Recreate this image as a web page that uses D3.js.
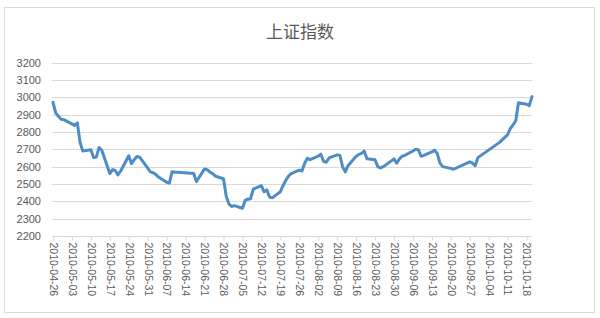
<!DOCTYPE html>
<html>
<head>
<meta charset="utf-8">
<script src="https://cdn.jsdelivr.net/npm/d3@7"></script>
<style>
  html, body { margin: 0; padding: 0; background: #fff; }
  svg { display: block; }
  .axis text { font-family: "Liberation Sans", Arial, sans-serif; fill: #595959; }
</style>
</head>
<body>
<svg id="chart"></svg>
<script>
// trading days and closing values of the index
const dates = [
  "2010-04-26","2010-04-27","2010-04-28","2010-04-29","2010-04-30",
  "2010-05-04","2010-05-05","2010-05-06","2010-05-07",
  "2010-05-10","2010-05-11","2010-05-12","2010-05-13","2010-05-14",
  "2010-05-17","2010-05-18","2010-05-19","2010-05-20","2010-05-21",
  "2010-05-24","2010-05-25","2010-05-26","2010-05-27","2010-05-28",
  "2010-05-31","2010-06-01","2010-06-02","2010-06-03","2010-06-04",
  "2010-06-07","2010-06-08","2010-06-09","2010-06-10","2010-06-11",
  "2010-06-17","2010-06-18",
  "2010-06-21","2010-06-22","2010-06-23","2010-06-24","2010-06-25",
  "2010-06-28","2010-06-29","2010-06-30","2010-07-01","2010-07-02",
  "2010-07-05","2010-07-06","2010-07-07","2010-07-08","2010-07-09",
  "2010-07-12","2010-07-13","2010-07-14","2010-07-15","2010-07-16",
  "2010-07-19","2010-07-20","2010-07-21","2010-07-22","2010-07-23",
  "2010-07-26","2010-07-27","2010-07-28","2010-07-29","2010-07-30",
  "2010-08-02","2010-08-03","2010-08-04","2010-08-05","2010-08-06",
  "2010-08-09","2010-08-10","2010-08-11","2010-08-12","2010-08-13",
  "2010-08-16","2010-08-17","2010-08-18","2010-08-19","2010-08-20",
  "2010-08-23","2010-08-24","2010-08-25","2010-08-26","2010-08-27",
  "2010-08-30","2010-08-31","2010-09-01","2010-09-02","2010-09-03",
  "2010-09-06","2010-09-07","2010-09-08","2010-09-09","2010-09-10",
  "2010-09-13","2010-09-14","2010-09-15","2010-09-16","2010-09-17",
  "2010-09-20","2010-09-21",
  "2010-09-27","2010-09-28","2010-09-29","2010-09-30",
  "2010-10-08",
  "2010-10-11","2010-10-12","2010-10-13","2010-10-14","2010-10-15",
  "2010-10-18","2010-10-19","2010-10-20"
];
const closes = [
  2971, 2910, 2890, 2873, 2871,
  2838, 2852, 2740, 2690,
  2697, 2652, 2655, 2710, 2696,
  2560, 2583, 2578, 2552, 2575,
  2663, 2617, 2640, 2658, 2655,
  2592, 2570, 2565, 2555, 2540,
  2510, 2505, 2571, 2568, 2568,
  2560, 2514,
  2587, 2583, 2568, 2560, 2545,
  2530, 2430, 2385, 2370, 2375,
  2360, 2405, 2412, 2415, 2470,
  2490, 2455, 2466, 2425, 2420,
  2455, 2490, 2520, 2545, 2560,
  2580, 2575, 2620, 2648, 2640,
  2660, 2672, 2630, 2625, 2650,
  2668, 2665, 2600, 2570, 2605,
  2660, 2670, 2677, 2690, 2645,
  2640, 2600, 2592, 2600, 2610,
  2645, 2620, 2645, 2660, 2665,
  2690, 2700, 2698, 2660, 2665,
  2685, 2695, 2675, 2620, 2600,
  2590, 2585,
  2628, 2620, 2605, 2652,
  2740,
  2785, 2820, 2840, 2865, 2968,
  2960, 2952, 3004
];
const yTicks = [2200, 2300, 2400, 2500, 2600, 2700, 2800, 2900, 3000, 3100, 3200];
const xTickLabels = [
  "2010-04-26","2010-05-03","2010-05-10","2010-05-17","2010-05-24","2010-05-31",
  "2010-06-07","2010-06-14","2010-06-21","2010-06-28","2010-07-05","2010-07-12",
  "2010-07-19","2010-07-26","2010-08-02","2010-08-09","2010-08-16","2010-08-23",
  "2010-08-30","2010-09-06","2010-09-13","2010-09-20","2010-09-27","2010-10-04",
  "2010-10-11","2010-10-18"
];
const title = "上证指数";

const W = 600, H = 318;
const parse = d3.timeParse("%Y-%m-%d");
const data = dates.map((d, i) => ({date: parse(d), value: closes[i]}));

const svg = d3.select("#chart").attr("width", W).attr("height", H);

// outer frame
svg.append("rect")
  .attr("x", 4.5).attr("y", 7.5)
  .attr("width", 590).attr("height", 305)
  .attr("fill", "#fff")
  .attr("stroke", "#d9d9d9");

svg.append("text")
  .attr("x", 300).attr("y", 38)
  .attr("text-anchor", "middle")
  .attr("font-family", "'Noto Sans CJK SC', sans-serif")
  .attr("font-size", 17)
  .attr("fill", "#595959")
  .text(title);

const x = d3.scaleTime()
  .domain([parse("2010-04-26"), parse("2010-10-20")])
  .range([53, 532]);

const y = d3.scaleLinear()
  .domain([2200, 3200])
  .range([236, 62.6]);

// gridlines
svg.append("g")
  .selectAll("line")
  .data(yTicks.slice(1))
  .join("line")
  .attr("x1", 52).attr("x2", 532)
  .attr("y1", d => Math.round(y(d)) + 0.5)
  .attr("y2", d => Math.round(y(d)) + 0.5)
  .attr("stroke", "#d9d9d9")
  .attr("stroke-width", 1);

// y axis labels
const yAxisG = svg.append("g")
  .attr("class", "axis")
  .attr("transform", "translate(52,0)")
  .call(d3.axisLeft(y).tickValues(yTicks).tickSize(0).tickPadding(11).tickFormat(d3.format("d")));
yAxisG.select(".domain").remove();
yAxisG.selectAll("text").attr("font-size", 11);

// x axis
const xAxisG = svg.append("g")
  .attr("class", "axis")
  .attr("transform", `translate(0,${Math.round(y(2200)) + 0.5})`)
  .call(d3.axisBottom(x).tickValues(xTickLabels.map(parse)).tickSize(4).tickFormat(d3.timeFormat("%Y-%m-%d")));
xAxisG.select(".domain")
  .attr("d", "M52,0H532")
  .attr("stroke", "#d9d9d9");
xAxisG.selectAll(".tick line").attr("stroke", "#d9d9d9");
xAxisG.selectAll("text")
  .attr("font-size", 10.5)
  .attr("transform", "rotate(90)")
  .attr("text-anchor", "start")
  .attr("x", 6)
  .attr("y", 0)
  .attr("dy", "0.35em");

// index line
const line = d3.line()
  .x(d => x(d.date))
  .y(d => y(d.value));

svg.append("path")
  .datum(data)
  .attr("d", line)
  .attr("fill", "none")
  .attr("stroke", "#4e8cc6")
  .attr("stroke-width", 3)
  .attr("stroke-linejoin", "round")
  .attr("stroke-linecap", "round");
</script>
</body>
</html>
